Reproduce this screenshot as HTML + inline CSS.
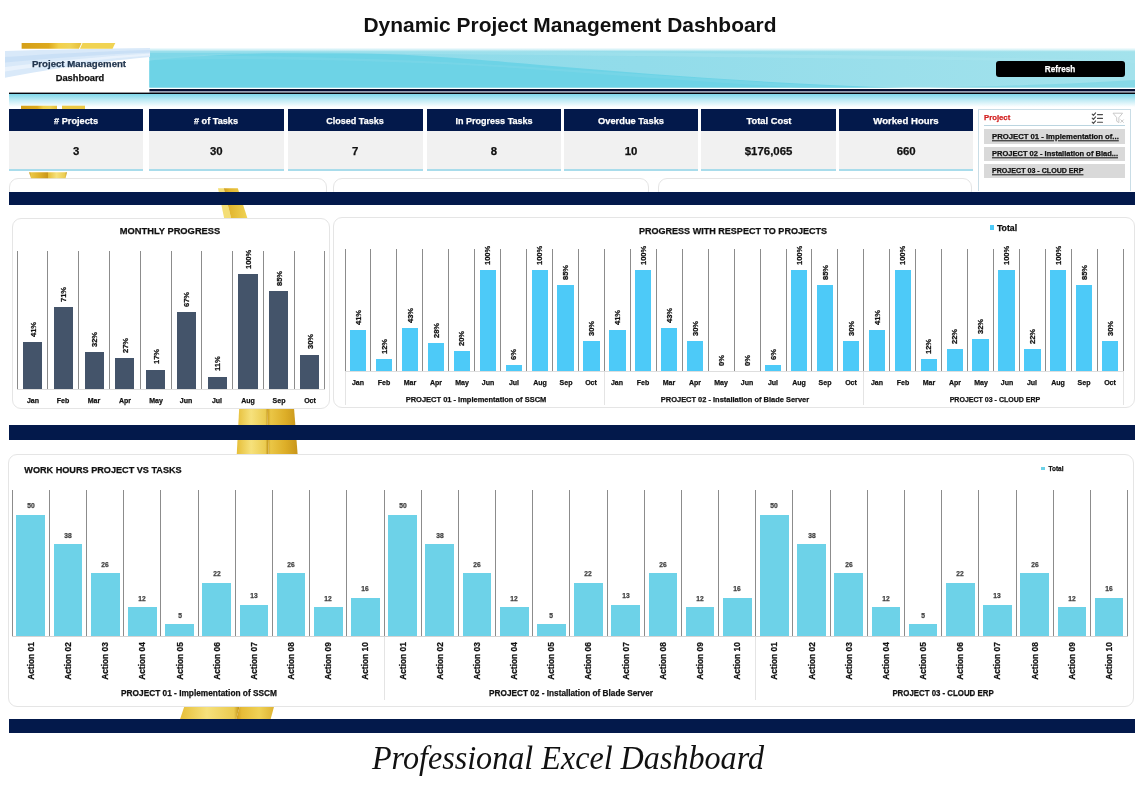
<!DOCTYPE html>
<html lang="en"><head><meta charset="utf-8"><title>Dynamic Project Management Dashboard</title>
<style>
html,body{margin:0;padding:0;background:#fff}
body{width:1140px;height:785px;position:relative;overflow:hidden;font-family:"Liberation Sans",sans-serif}
#s div,#s svg{position:absolute}
.t{position:absolute;white-space:nowrap;line-height:1;font-weight:700;-webkit-text-stroke:0.25px currentColor}
.card{background:#fff;border:1px solid #e5e5e5;border-radius:9px;box-sizing:border-box}
.u{text-decoration:underline}
.script{-webkit-text-stroke:0;font-family:"Liberation Serif",serif;font-style:italic;font-weight:400}
.ns{-webkit-text-stroke:0}

</style></head>
<body>
<div id="s">
<!-- header -->
<svg style="left:0;top:40px" width="1140" height="70" viewBox="0 40 1140 70">
 <defs>
  <linearGradient id="hd" x1="0" x2="1" y1="0" y2="0">
   <stop offset="0" stop-color="#8CDAE9"/><stop offset="0.5" stop-color="#92DCEA"/><stop offset="1" stop-color="#A3E2EC"/>
  </linearGradient>
  <linearGradient id="hf" x1="0" x2="0" y1="0" y2="1">
   <stop offset="0" stop-color="#ffffff" stop-opacity="0.85"/><stop offset="1" stop-color="#ffffff" stop-opacity="0"/>
  </linearGradient>
  <linearGradient id="st" x1="0" x2="0" y1="0" y2="1">
   <stop offset="0" stop-color="#7FD7EA"/><stop offset="0.5" stop-color="#C4ECF5"/><stop offset="1" stop-color="#ffffff"/>
  </linearGradient>
  <linearGradient id="gold" x1="0" x2="1" y1="0" y2="0">
   <stop offset="0" stop-color="#D59F18"/><stop offset="0.45" stop-color="#DDA91D"/><stop offset="0.62" stop-color="#F2D04A"/><stop offset="0.8" stop-color="#F0D458"/><stop offset="1" stop-color="#E6BE38"/>
  </linearGradient>
 </defs>
 <rect x="149.4" y="48.8" width="985.6" height="38.8" fill="url(#hd)"/>
 <path d="M149.4 60.5 C 200 55.5, 250 52.8, 310 52.6 C 400 52.6, 470 59, 540 65 C 660 75, 790 85, 905 87.6 L149.4 87.6 Z" fill="#6DD3E6"/>
 <path d="M149.4 50 C 200 50, 250 50.5, 300 51.5 L300 52.6 C 250 53, 200 55, 149.4 58 Z" fill="#7AD6E7" opacity="0.7"/>
 <path d="M149.4 56 C 300 55, 430 60, 560 69 C 680 77, 790 85, 880 87.6 L800 87.6 C 700 82, 600 74, 500 67 C 380 60, 260 58, 149.4 60 Z" fill="#7DD7E8" opacity="0.6"/>
 <path d="M149.4 50 C 400 49, 700 52, 1135 60 V63 C 700 56, 400 53, 149.4 53 Z" fill="#A8E3EE" opacity="0.5"/>
 <path d="M930 87.6 C 1010 86, 1080 83.5, 1135 80 V87.6 Z" fill="#7DD6E6" opacity="0.75"/>
 <rect x="149.4" y="48.8" width="985.6" height="3" fill="url(#hf)"/>
 <rect x="149.4" y="89" width="985.6" height="2.1" fill="#060F30"/>
 <rect x="149.4" y="91.1" width="985.6" height="1.5" fill="#8F98AF"/>
 <rect x="9" y="92.6" width="1126" height="1.4" fill="#05070f"/>
 <rect x="9" y="94" width="1126" height="13" fill="url(#st)"/>
 <!-- left wave -->
 <path d="M5 51 C 50 49.6, 100 48.6, 150 47.9 L150 57 C 110 60.5, 55 68, 5 77.8 Z" fill="#D9E9F9"/>
 <path d="M5 57 C 50 54, 100 51.5, 150 50 L150 52.5 C 100 54.5, 50 58.5, 5 62.5 Z" fill="#C6DDF5" opacity="0.8"/>
 <path d="M5 67 C 50 61.5, 100 56.5, 150 53.5 L150 55.5 C 100 59, 50 65, 5 71.5 Z" fill="#EAF3FC" opacity="0.9"/>
 <!-- gold top -->
 <polygon points="21.6,42.9 81.5,42.9 79,48.8 21.6,48.8" fill="url(#gold)"/>
 <polygon points="82.5,42.9 115.3,42.9 112.5,48.8 80,48.8" fill="#F0D353"/>
 <polygon points="21,105.7 57,105.7 57,109 21,109" fill="url(#gold)"/>
 <polygon points="62,105.7 85,105.7 85,109 62,109" fill="#EBC844"/>
</svg>
<div style="left:996px;top:61px;width:129px;height:15.5px;background:#000;border-radius:3px"></div>
<!-- partial cards behind band -->
<div class="card" style="left:9px;top:178.4px;width:317.5px;height:22px"></div>
<div class="card" style="left:332.7px;top:178.4px;width:316px;height:22px"></div>
<div class="card" style="left:658.4px;top:178.4px;width:313.6px;height:22px"></div>
<!-- gold ribbons -->
<svg style="left:0;top:165px" width="400" height="570" viewBox="0 165 400 570">
 <defs>
  <linearGradient id="gl" x1="0" x2="1" y1="0" y2="0">
   <stop offset="0" stop-color="#E6BE38"/><stop offset="0.45" stop-color="#F6E17C"/><stop offset="0.9" stop-color="#EBCB50"/><stop offset="1" stop-color="#B98A10"/>
  </linearGradient>
  <linearGradient id="gs" x1="0" x2="1" y1="0" y2="0">
   <stop offset="0" stop-color="#CF9E1C"/><stop offset="0.25" stop-color="#E2B62F"/><stop offset="1" stop-color="#F0D355"/>
  </linearGradient>
  <linearGradient id="gb" x1="0" x2="1" y1="0" y2="0">
   <stop offset="0" stop-color="#CC9B1C"/><stop offset="0.15" stop-color="#E6BC38"/><stop offset="0.6" stop-color="#F0D256"/><stop offset="1" stop-color="#DDB233"/>
  </linearGradient>
  <linearGradient id="gr" x1="0" x2="1" y1="0" y2="0">
   <stop offset="0" stop-color="#C9981A"/><stop offset="0.12" stop-color="#EAC646"/><stop offset="0.6" stop-color="#DDAE28"/><stop offset="1" stop-color="#C8951A"/>
  </linearGradient>
 </defs>
 <polygon points="29,172.3 48,172.3 48,178.2 31,178.2" fill="url(#gr)"/>
 <polygon points="48,172.3 67,172.3 65.5,178.2 48,178.2" fill="url(#gl)"/>
 <polygon points="218,188.2 223.8,188.2 231.2,218.4 224.2,218.4" fill="#F4DE76"/>
 <polygon points="223.8,188.2 237.8,188.2 247.5,218.4 231.2,218.4" fill="url(#gs)"/>
 <polygon points="239.2,408 267,408 268.6,455 236.7,455" fill="url(#gl)"/>
 <polygon points="267,408 294,408 297.7,455 268.6,455" fill="url(#gr)"/>
 <polygon points="184.8,705 240,705 236,720 179.8,720" fill="url(#gl)"/>
 <polygon points="240,705 274.5,705 270.4,720 236,720" fill="url(#gb)"/>
</svg>
<!-- navy bands -->
<div style="left:9px;top:191.7px;width:1126px;height:13.6px;background:#03194B"></div>
<div style="left:9px;top:425.3px;width:1126px;height:14.5px;background:#03194B"></div>
<div style="left:9px;top:718.8px;width:1126px;height:13.9px;background:#03194B"></div>
<!-- cards -->
<div class="card" style="left:12px;top:218.4px;width:317.5px;height:190.4px"></div>
<div class="card" style="left:333px;top:216.8px;width:801.5px;height:190.8px"></div>
<div class="card" style="left:8.4px;top:454.3px;width:1125.8px;height:252.4px"></div>
<!-- slicer -->
<div style="left:977.7px;top:109px;width:153.3px;height:82px;background:#fff;border:1px solid #C9DDE6;border-bottom:0;box-sizing:border-box"></div>
<div style="left:984px;top:125px;width:141px;height:1px;background:#BBD5E0"></div>
<div style="left:984px;top:129.2px;width:141px;height:14.8px;background:#D9D9D9"></div>
<div style="left:984px;top:146.6px;width:141px;height:14.6px;background:#D9D9D9"></div>
<div style="left:984px;top:163.6px;width:141px;height:14.6px;background:#D9D9D9"></div>
<svg style="left:1090px;top:111px" width="40" height="14" viewBox="0 0 40 14">
 <g fill="none" stroke="#4a4a4a" stroke-width="1.1" stroke-linecap="round">
  <path d="M2.2 3.2l1.2 1.2l2.2-2.6M2.2 7.2l1.2 1.2l2.2-2.6M2.2 11.2l1.2 1.2l2.2-2.6"/>
  <path d="M7.5 3.6h5M7.5 7.4h5M7.5 11.2h5"/>
 </g>
 <g fill="none" stroke="#c4c4c4" stroke-width="0.9" stroke-linejoin="round">
  <path d="M23 2.2h9.6l-3.7 4.4v5l-2.2-1.4v-3.6z"/>
  <path d="M30.5 8.5l3.2 3.2M33.7 8.5l-3.2 3.2"/>
 </g>
</svg>
<div style="left:8.90px;top:109.00px;width:134.50px;height:21.60px;background:#03194B;"></div>
<div style="left:8.90px;top:130.60px;width:134.50px;height:38.80px;background:#F1F1F1;"></div>
<div style="left:8.90px;top:169.20px;width:134.50px;height:2.00px;background:#A9DCEB;"></div>
<div style="left:149.10px;top:109.00px;width:134.50px;height:21.60px;background:#03194B;"></div>
<div style="left:149.10px;top:130.60px;width:134.50px;height:38.80px;background:#F1F1F1;"></div>
<div style="left:149.10px;top:169.20px;width:134.50px;height:2.00px;background:#A9DCEB;"></div>
<div style="left:288.00px;top:109.00px;width:134.50px;height:21.60px;background:#03194B;"></div>
<div style="left:288.00px;top:130.60px;width:134.50px;height:38.80px;background:#F1F1F1;"></div>
<div style="left:288.00px;top:169.20px;width:134.50px;height:2.00px;background:#A9DCEB;"></div>
<div style="left:426.60px;top:109.00px;width:134.50px;height:21.60px;background:#03194B;"></div>
<div style="left:426.60px;top:130.60px;width:134.50px;height:38.80px;background:#F1F1F1;"></div>
<div style="left:426.60px;top:169.20px;width:134.50px;height:2.00px;background:#A9DCEB;"></div>
<div style="left:563.80px;top:109.00px;width:134.50px;height:21.60px;background:#03194B;"></div>
<div style="left:563.80px;top:130.60px;width:134.50px;height:38.80px;background:#F1F1F1;"></div>
<div style="left:563.80px;top:169.20px;width:134.50px;height:2.00px;background:#A9DCEB;"></div>
<div style="left:701.30px;top:109.00px;width:134.50px;height:21.60px;background:#03194B;"></div>
<div style="left:701.30px;top:130.60px;width:134.50px;height:38.80px;background:#F1F1F1;"></div>
<div style="left:701.30px;top:169.20px;width:134.50px;height:2.00px;background:#A9DCEB;"></div>
<div style="left:838.90px;top:109.00px;width:134.50px;height:21.60px;background:#03194B;"></div>
<div style="left:838.90px;top:130.60px;width:134.50px;height:38.80px;background:#F1F1F1;"></div>
<div style="left:838.90px;top:169.20px;width:134.50px;height:2.00px;background:#A9DCEB;"></div>
<div style="left:16.70px;top:250.50px;width:1.00px;height:138.70px;background:#8c8c8c;"></div>
<div style="left:47.47px;top:250.50px;width:1.00px;height:138.70px;background:#8c8c8c;"></div>
<div style="left:78.24px;top:250.50px;width:1.00px;height:138.70px;background:#8c8c8c;"></div>
<div style="left:109.01px;top:250.50px;width:1.00px;height:138.70px;background:#8c8c8c;"></div>
<div style="left:139.78px;top:250.50px;width:1.00px;height:138.70px;background:#8c8c8c;"></div>
<div style="left:170.55px;top:250.50px;width:1.00px;height:138.70px;background:#8c8c8c;"></div>
<div style="left:201.32px;top:250.50px;width:1.00px;height:138.70px;background:#8c8c8c;"></div>
<div style="left:232.09px;top:250.50px;width:1.00px;height:138.70px;background:#8c8c8c;"></div>
<div style="left:262.86px;top:250.50px;width:1.00px;height:138.70px;background:#8c8c8c;"></div>
<div style="left:293.63px;top:250.50px;width:1.00px;height:138.70px;background:#8c8c8c;"></div>
<div style="left:324.40px;top:250.50px;width:1.00px;height:138.70px;background:#8c8c8c;"></div>
<div style="left:22.98px;top:341.97px;width:19.20px;height:47.23px;background:#44546A;"></div>
<div style="left:53.76px;top:307.41px;width:19.20px;height:81.79px;background:#44546A;"></div>
<div style="left:84.53px;top:352.34px;width:19.20px;height:36.86px;background:#44546A;"></div>
<div style="left:115.30px;top:358.10px;width:19.20px;height:31.10px;background:#44546A;"></div>
<div style="left:146.06px;top:369.62px;width:19.20px;height:19.58px;background:#44546A;"></div>
<div style="left:176.83px;top:312.02px;width:19.20px;height:77.18px;background:#44546A;"></div>
<div style="left:207.60px;top:376.53px;width:19.20px;height:12.67px;background:#44546A;"></div>
<div style="left:238.38px;top:274.00px;width:19.20px;height:115.20px;background:#44546A;"></div>
<div style="left:269.14px;top:291.28px;width:19.20px;height:97.92px;background:#44546A;"></div>
<div style="left:299.91px;top:354.64px;width:19.20px;height:34.56px;background:#44546A;"></div>
<div style="left:17.20px;top:389.00px;width:307.70px;height:0.80px;background:#dedede;"></div>
<div style="left:344.55px;top:249.20px;width:1.00px;height:121.60px;background:#8c8c8c;"></div>
<div style="left:344.55px;top:370.80px;width:1.00px;height:34.70px;background:#e4e4e4;"></div>
<div style="left:370.49px;top:249.20px;width:1.00px;height:121.60px;background:#8c8c8c;"></div>
<div style="left:396.43px;top:249.20px;width:1.00px;height:121.60px;background:#8c8c8c;"></div>
<div style="left:422.37px;top:249.20px;width:1.00px;height:121.60px;background:#8c8c8c;"></div>
<div style="left:448.31px;top:249.20px;width:1.00px;height:121.60px;background:#8c8c8c;"></div>
<div style="left:474.25px;top:249.20px;width:1.00px;height:121.60px;background:#8c8c8c;"></div>
<div style="left:500.19px;top:249.20px;width:1.00px;height:121.60px;background:#8c8c8c;"></div>
<div style="left:526.13px;top:249.20px;width:1.00px;height:121.60px;background:#8c8c8c;"></div>
<div style="left:552.07px;top:249.20px;width:1.00px;height:121.60px;background:#8c8c8c;"></div>
<div style="left:578.01px;top:249.20px;width:1.00px;height:121.60px;background:#8c8c8c;"></div>
<div style="left:603.95px;top:249.20px;width:1.00px;height:121.60px;background:#8c8c8c;"></div>
<div style="left:603.95px;top:370.80px;width:1.00px;height:34.70px;background:#e4e4e4;"></div>
<div style="left:629.89px;top:249.20px;width:1.00px;height:121.60px;background:#8c8c8c;"></div>
<div style="left:655.83px;top:249.20px;width:1.00px;height:121.60px;background:#8c8c8c;"></div>
<div style="left:681.77px;top:249.20px;width:1.00px;height:121.60px;background:#8c8c8c;"></div>
<div style="left:707.71px;top:249.20px;width:1.00px;height:121.60px;background:#8c8c8c;"></div>
<div style="left:733.65px;top:249.20px;width:1.00px;height:121.60px;background:#8c8c8c;"></div>
<div style="left:759.59px;top:249.20px;width:1.00px;height:121.60px;background:#8c8c8c;"></div>
<div style="left:785.53px;top:249.20px;width:1.00px;height:121.60px;background:#8c8c8c;"></div>
<div style="left:811.47px;top:249.20px;width:1.00px;height:121.60px;background:#8c8c8c;"></div>
<div style="left:837.41px;top:249.20px;width:1.00px;height:121.60px;background:#8c8c8c;"></div>
<div style="left:863.35px;top:249.20px;width:1.00px;height:121.60px;background:#8c8c8c;"></div>
<div style="left:863.35px;top:370.80px;width:1.00px;height:34.70px;background:#e4e4e4;"></div>
<div style="left:889.29px;top:249.20px;width:1.00px;height:121.60px;background:#8c8c8c;"></div>
<div style="left:915.23px;top:249.20px;width:1.00px;height:121.60px;background:#8c8c8c;"></div>
<div style="left:941.17px;top:249.20px;width:1.00px;height:121.60px;background:#8c8c8c;"></div>
<div style="left:967.11px;top:249.20px;width:1.00px;height:121.60px;background:#8c8c8c;"></div>
<div style="left:993.05px;top:249.20px;width:1.00px;height:121.60px;background:#8c8c8c;"></div>
<div style="left:1018.99px;top:249.20px;width:1.00px;height:121.60px;background:#8c8c8c;"></div>
<div style="left:1044.93px;top:249.20px;width:1.00px;height:121.60px;background:#8c8c8c;"></div>
<div style="left:1070.87px;top:249.20px;width:1.00px;height:121.60px;background:#8c8c8c;"></div>
<div style="left:1096.81px;top:249.20px;width:1.00px;height:121.60px;background:#8c8c8c;"></div>
<div style="left:1122.75px;top:249.20px;width:1.00px;height:121.60px;background:#8c8c8c;"></div>
<div style="left:1122.75px;top:370.80px;width:1.00px;height:34.70px;background:#e4e4e4;"></div>
<div style="left:349.92px;top:329.55px;width:16.20px;height:41.25px;background:#4DCAF8;"></div>
<div style="left:375.86px;top:358.73px;width:16.20px;height:12.07px;background:#4DCAF8;"></div>
<div style="left:401.80px;top:327.54px;width:16.20px;height:43.26px;background:#4DCAF8;"></div>
<div style="left:427.74px;top:342.63px;width:16.20px;height:28.17px;background:#4DCAF8;"></div>
<div style="left:453.68px;top:350.68px;width:16.20px;height:20.12px;background:#4DCAF8;"></div>
<div style="left:479.62px;top:270.20px;width:16.20px;height:100.60px;background:#4DCAF8;"></div>
<div style="left:505.56px;top:364.76px;width:16.20px;height:6.04px;background:#4DCAF8;"></div>
<div style="left:531.50px;top:270.20px;width:16.20px;height:100.60px;background:#4DCAF8;"></div>
<div style="left:557.44px;top:285.29px;width:16.20px;height:85.51px;background:#4DCAF8;"></div>
<div style="left:583.38px;top:340.62px;width:16.20px;height:30.18px;background:#4DCAF8;"></div>
<div style="left:609.32px;top:329.55px;width:16.20px;height:41.25px;background:#4DCAF8;"></div>
<div style="left:635.26px;top:270.20px;width:16.20px;height:100.60px;background:#4DCAF8;"></div>
<div style="left:661.20px;top:327.54px;width:16.20px;height:43.26px;background:#4DCAF8;"></div>
<div style="left:687.14px;top:340.62px;width:16.20px;height:30.18px;background:#4DCAF8;"></div>
<div style="left:764.96px;top:364.76px;width:16.20px;height:6.04px;background:#4DCAF8;"></div>
<div style="left:790.90px;top:270.20px;width:16.20px;height:100.60px;background:#4DCAF8;"></div>
<div style="left:816.84px;top:285.29px;width:16.20px;height:85.51px;background:#4DCAF8;"></div>
<div style="left:842.78px;top:340.62px;width:16.20px;height:30.18px;background:#4DCAF8;"></div>
<div style="left:868.72px;top:329.55px;width:16.20px;height:41.25px;background:#4DCAF8;"></div>
<div style="left:894.66px;top:270.20px;width:16.20px;height:100.60px;background:#4DCAF8;"></div>
<div style="left:920.60px;top:358.73px;width:16.20px;height:12.07px;background:#4DCAF8;"></div>
<div style="left:946.54px;top:348.67px;width:16.20px;height:22.13px;background:#4DCAF8;"></div>
<div style="left:972.48px;top:338.61px;width:16.20px;height:32.19px;background:#4DCAF8;"></div>
<div style="left:998.42px;top:270.20px;width:16.20px;height:100.60px;background:#4DCAF8;"></div>
<div style="left:1024.36px;top:348.67px;width:16.20px;height:22.13px;background:#4DCAF8;"></div>
<div style="left:1050.30px;top:270.20px;width:16.20px;height:100.60px;background:#4DCAF8;"></div>
<div style="left:1076.24px;top:285.29px;width:16.20px;height:85.51px;background:#4DCAF8;"></div>
<div style="left:1102.18px;top:340.62px;width:16.20px;height:30.18px;background:#4DCAF8;"></div>
<div style="left:345.05px;top:370.70px;width:778.20px;height:0.80px;background:#dedede;"></div>
<div style="left:989.60px;top:225.40px;width:4.80px;height:4.80px;background:#4DCAF8;"></div>
<div style="left:11.70px;top:490.20px;width:1.00px;height:146.20px;background:#8c8c8c;"></div>
<div style="left:48.88px;top:490.20px;width:1.00px;height:146.20px;background:#8c8c8c;"></div>
<div style="left:86.06px;top:490.20px;width:1.00px;height:146.20px;background:#8c8c8c;"></div>
<div style="left:123.24px;top:490.20px;width:1.00px;height:146.20px;background:#8c8c8c;"></div>
<div style="left:160.42px;top:490.20px;width:1.00px;height:146.20px;background:#8c8c8c;"></div>
<div style="left:197.60px;top:490.20px;width:1.00px;height:146.20px;background:#8c8c8c;"></div>
<div style="left:234.78px;top:490.20px;width:1.00px;height:146.20px;background:#8c8c8c;"></div>
<div style="left:271.96px;top:490.20px;width:1.00px;height:146.20px;background:#8c8c8c;"></div>
<div style="left:309.14px;top:490.20px;width:1.00px;height:146.20px;background:#8c8c8c;"></div>
<div style="left:346.32px;top:490.20px;width:1.00px;height:146.20px;background:#8c8c8c;"></div>
<div style="left:383.50px;top:490.20px;width:1.00px;height:146.20px;background:#8c8c8c;"></div>
<div style="left:383.50px;top:636.40px;width:1.00px;height:63.60px;background:#e4e4e4;"></div>
<div style="left:420.68px;top:490.20px;width:1.00px;height:146.20px;background:#8c8c8c;"></div>
<div style="left:457.86px;top:490.20px;width:1.00px;height:146.20px;background:#8c8c8c;"></div>
<div style="left:495.04px;top:490.20px;width:1.00px;height:146.20px;background:#8c8c8c;"></div>
<div style="left:532.22px;top:490.20px;width:1.00px;height:146.20px;background:#8c8c8c;"></div>
<div style="left:569.40px;top:490.20px;width:1.00px;height:146.20px;background:#8c8c8c;"></div>
<div style="left:606.58px;top:490.20px;width:1.00px;height:146.20px;background:#8c8c8c;"></div>
<div style="left:643.76px;top:490.20px;width:1.00px;height:146.20px;background:#8c8c8c;"></div>
<div style="left:680.94px;top:490.20px;width:1.00px;height:146.20px;background:#8c8c8c;"></div>
<div style="left:718.12px;top:490.20px;width:1.00px;height:146.20px;background:#8c8c8c;"></div>
<div style="left:755.30px;top:490.20px;width:1.00px;height:146.20px;background:#8c8c8c;"></div>
<div style="left:755.30px;top:636.40px;width:1.00px;height:63.60px;background:#e4e4e4;"></div>
<div style="left:792.48px;top:490.20px;width:1.00px;height:146.20px;background:#8c8c8c;"></div>
<div style="left:829.66px;top:490.20px;width:1.00px;height:146.20px;background:#8c8c8c;"></div>
<div style="left:866.84px;top:490.20px;width:1.00px;height:146.20px;background:#8c8c8c;"></div>
<div style="left:904.02px;top:490.20px;width:1.00px;height:146.20px;background:#8c8c8c;"></div>
<div style="left:941.20px;top:490.20px;width:1.00px;height:146.20px;background:#8c8c8c;"></div>
<div style="left:978.38px;top:490.20px;width:1.00px;height:146.20px;background:#8c8c8c;"></div>
<div style="left:1015.56px;top:490.20px;width:1.00px;height:146.20px;background:#8c8c8c;"></div>
<div style="left:1052.74px;top:490.20px;width:1.00px;height:146.20px;background:#8c8c8c;"></div>
<div style="left:1089.92px;top:490.20px;width:1.00px;height:146.20px;background:#8c8c8c;"></div>
<div style="left:1127.10px;top:490.20px;width:1.00px;height:146.20px;background:#8c8c8c;"></div>
<div style="left:16.49px;top:515.00px;width:28.70px;height:121.40px;background:#6DD2E8;"></div>
<div style="left:53.67px;top:544.14px;width:28.70px;height:92.26px;background:#6DD2E8;"></div>
<div style="left:90.85px;top:573.27px;width:28.70px;height:63.13px;background:#6DD2E8;"></div>
<div style="left:128.03px;top:607.26px;width:28.70px;height:29.14px;background:#6DD2E8;"></div>
<div style="left:165.21px;top:624.26px;width:28.70px;height:12.14px;background:#6DD2E8;"></div>
<div style="left:202.39px;top:582.98px;width:28.70px;height:53.42px;background:#6DD2E8;"></div>
<div style="left:239.57px;top:604.84px;width:28.70px;height:31.56px;background:#6DD2E8;"></div>
<div style="left:276.75px;top:573.27px;width:28.70px;height:63.13px;background:#6DD2E8;"></div>
<div style="left:313.93px;top:607.26px;width:28.70px;height:29.14px;background:#6DD2E8;"></div>
<div style="left:351.11px;top:597.55px;width:28.70px;height:38.85px;background:#6DD2E8;"></div>
<div style="left:388.29px;top:515.00px;width:28.70px;height:121.40px;background:#6DD2E8;"></div>
<div style="left:425.47px;top:544.14px;width:28.70px;height:92.26px;background:#6DD2E8;"></div>
<div style="left:462.65px;top:573.27px;width:28.70px;height:63.13px;background:#6DD2E8;"></div>
<div style="left:499.83px;top:607.26px;width:28.70px;height:29.14px;background:#6DD2E8;"></div>
<div style="left:537.01px;top:624.26px;width:28.70px;height:12.14px;background:#6DD2E8;"></div>
<div style="left:574.19px;top:582.98px;width:28.70px;height:53.42px;background:#6DD2E8;"></div>
<div style="left:611.37px;top:604.84px;width:28.70px;height:31.56px;background:#6DD2E8;"></div>
<div style="left:648.55px;top:573.27px;width:28.70px;height:63.13px;background:#6DD2E8;"></div>
<div style="left:685.73px;top:607.26px;width:28.70px;height:29.14px;background:#6DD2E8;"></div>
<div style="left:722.91px;top:597.55px;width:28.70px;height:38.85px;background:#6DD2E8;"></div>
<div style="left:760.09px;top:515.00px;width:28.70px;height:121.40px;background:#6DD2E8;"></div>
<div style="left:797.27px;top:544.14px;width:28.70px;height:92.26px;background:#6DD2E8;"></div>
<div style="left:834.45px;top:573.27px;width:28.70px;height:63.13px;background:#6DD2E8;"></div>
<div style="left:871.63px;top:607.26px;width:28.70px;height:29.14px;background:#6DD2E8;"></div>
<div style="left:908.81px;top:624.26px;width:28.70px;height:12.14px;background:#6DD2E8;"></div>
<div style="left:945.99px;top:582.98px;width:28.70px;height:53.42px;background:#6DD2E8;"></div>
<div style="left:983.17px;top:604.84px;width:28.70px;height:31.56px;background:#6DD2E8;"></div>
<div style="left:1020.35px;top:573.27px;width:28.70px;height:63.13px;background:#6DD2E8;"></div>
<div style="left:1057.53px;top:607.26px;width:28.70px;height:29.14px;background:#6DD2E8;"></div>
<div style="left:1094.71px;top:597.55px;width:28.70px;height:38.85px;background:#6DD2E8;"></div>
<div style="left:12.20px;top:636.20px;width:1115.40px;height:0.80px;background:#d4d4d4;"></div>
<div style="left:1040.80px;top:466.60px;width:3.80px;height:3.80px;background:#6DD2E8;"></div>
</div>
<div class="t ns" style="left:570.00px;top:24.40px;font-size:21px;color:#111;transform-origin:50% 50%;transform:translate(-50%,-50%) scaleX(0.997)">Dynamic Project Management Dashboard</div>
<div class="t" style="left:76.15px;top:120.50px;font-size:9.8px;color:#fff;transform-origin:50% 50%;transform:translate(-50%,-50%) scaleX(0.941)"># Projects</div>
<div class="t" style="left:76.15px;top:151.80px;font-size:11.4px;color:#111;transform-origin:50% 50%;transform:translate(-50%,-50%)">3</div>
<div class="t" style="left:216.35px;top:120.50px;font-size:9.8px;color:#fff;transform-origin:50% 50%;transform:translate(-50%,-50%) scaleX(0.934)"># of Tasks</div>
<div class="t" style="left:216.35px;top:151.80px;font-size:11.4px;color:#111;transform-origin:50% 50%;transform:translate(-50%,-50%)">30</div>
<div class="t" style="left:355.25px;top:120.50px;font-size:9.8px;color:#fff;transform-origin:50% 50%;transform:translate(-50%,-50%) scaleX(0.921)">Closed Tasks</div>
<div class="t" style="left:355.25px;top:151.80px;font-size:11.4px;color:#111;transform-origin:50% 50%;transform:translate(-50%,-50%)">7</div>
<div class="t" style="left:493.85px;top:120.50px;font-size:9.8px;color:#fff;transform-origin:50% 50%;transform:translate(-50%,-50%) scaleX(0.922)">In Progress Tasks</div>
<div class="t" style="left:493.85px;top:151.80px;font-size:11.4px;color:#111;transform-origin:50% 50%;transform:translate(-50%,-50%)">8</div>
<div class="t" style="left:631.05px;top:120.50px;font-size:9.8px;color:#fff;transform-origin:50% 50%;transform:translate(-50%,-50%) scaleX(0.949)">Overdue Tasks</div>
<div class="t" style="left:631.05px;top:151.80px;font-size:11.4px;color:#111;transform-origin:50% 50%;transform:translate(-50%,-50%)">10</div>
<div class="t" style="left:768.55px;top:120.50px;font-size:9.8px;color:#fff;transform-origin:50% 50%;transform:translate(-50%,-50%) scaleX(0.952)">Total Cost</div>
<div class="t" style="left:768.55px;top:151.80px;font-size:11.4px;color:#111;transform-origin:50% 50%;transform:translate(-50%,-50%)">$176,065</div>
<div class="t" style="left:906.15px;top:120.50px;font-size:9.8px;color:#fff;transform-origin:50% 50%;transform:translate(-50%,-50%) scaleX(0.979)">Worked Hours</div>
<div class="t" style="left:906.15px;top:151.80px;font-size:11.4px;color:#111;transform-origin:50% 50%;transform:translate(-50%,-50%)">660</div>
<div class="t" style="left:32.59px;top:400.60px;font-size:7.4px;color:#111;transform-origin:50% 50%;transform:translate(-50%,-50%) scaleX(0.950)">Jan</div>
<div class="t" style="left:33.59px;top:336.77px;font-size:8.1px;color:#111;transform-origin:0 50%;transform:translateY(-50%) rotate(-90deg) scaleX(0.930)">41%</div>
<div class="t" style="left:63.36px;top:400.60px;font-size:7.4px;color:#111;transform-origin:50% 50%;transform:translate(-50%,-50%) scaleX(0.950)">Feb</div>
<div class="t" style="left:64.36px;top:302.21px;font-size:8.1px;color:#111;transform-origin:0 50%;transform:translateY(-50%) rotate(-90deg) scaleX(0.930)">71%</div>
<div class="t" style="left:94.12px;top:400.60px;font-size:7.4px;color:#111;transform-origin:50% 50%;transform:translate(-50%,-50%) scaleX(0.950)">Mar</div>
<div class="t" style="left:95.12px;top:347.14px;font-size:8.1px;color:#111;transform-origin:0 50%;transform:translateY(-50%) rotate(-90deg) scaleX(0.930)">32%</div>
<div class="t" style="left:124.89px;top:400.60px;font-size:7.4px;color:#111;transform-origin:50% 50%;transform:translate(-50%,-50%) scaleX(0.950)">Apr</div>
<div class="t" style="left:125.89px;top:352.90px;font-size:8.1px;color:#111;transform-origin:0 50%;transform:translateY(-50%) rotate(-90deg) scaleX(0.930)">27%</div>
<div class="t" style="left:155.66px;top:400.60px;font-size:7.4px;color:#111;transform-origin:50% 50%;transform:translate(-50%,-50%) scaleX(0.950)">May</div>
<div class="t" style="left:156.66px;top:364.42px;font-size:8.1px;color:#111;transform-origin:0 50%;transform:translateY(-50%) rotate(-90deg) scaleX(0.930)">17%</div>
<div class="t" style="left:186.43px;top:400.60px;font-size:7.4px;color:#111;transform-origin:50% 50%;transform:translate(-50%,-50%) scaleX(0.950)">Jun</div>
<div class="t" style="left:187.43px;top:306.82px;font-size:8.1px;color:#111;transform-origin:0 50%;transform:translateY(-50%) rotate(-90deg) scaleX(0.930)">67%</div>
<div class="t" style="left:217.20px;top:400.60px;font-size:7.4px;color:#111;transform-origin:50% 50%;transform:translate(-50%,-50%) scaleX(0.950)">Jul</div>
<div class="t" style="left:218.20px;top:371.33px;font-size:8.1px;color:#111;transform-origin:0 50%;transform:translateY(-50%) rotate(-90deg) scaleX(0.930)">11%</div>
<div class="t" style="left:247.97px;top:400.60px;font-size:7.4px;color:#111;transform-origin:50% 50%;transform:translate(-50%,-50%) scaleX(0.950)">Aug</div>
<div class="t" style="left:248.97px;top:268.80px;font-size:8.1px;color:#111;transform-origin:0 50%;transform:translateY(-50%) rotate(-90deg) scaleX(0.930)">100%</div>
<div class="t" style="left:278.75px;top:400.60px;font-size:7.4px;color:#111;transform-origin:50% 50%;transform:translate(-50%,-50%) scaleX(0.950)">Sep</div>
<div class="t" style="left:279.75px;top:286.08px;font-size:8.1px;color:#111;transform-origin:0 50%;transform:translateY(-50%) rotate(-90deg) scaleX(0.930)">85%</div>
<div class="t" style="left:309.51px;top:400.60px;font-size:7.4px;color:#111;transform-origin:50% 50%;transform:translate(-50%,-50%) scaleX(0.950)">Oct</div>
<div class="t" style="left:310.51px;top:349.44px;font-size:8.1px;color:#111;transform-origin:0 50%;transform:translateY(-50%) rotate(-90deg) scaleX(0.930)">30%</div>
<div class="t" style="left:170.20px;top:232.20px;font-size:9.1px;color:#111;transform-origin:50% 50%;transform:translate(-50%,-50%) scaleX(1.026)">MONTHLY PROGRESS</div>
<div class="t" style="left:358.02px;top:382.80px;font-size:7.4px;color:#111;transform-origin:50% 50%;transform:translate(-50%,-50%) scaleX(0.950)">Jan</div>
<div class="t" style="left:358.72px;top:324.55px;font-size:8.1px;color:#111;transform-origin:0 50%;transform:translateY(-50%) rotate(-90deg) scaleX(0.930)">41%</div>
<div class="t" style="left:383.96px;top:382.80px;font-size:7.4px;color:#111;transform-origin:50% 50%;transform:translate(-50%,-50%) scaleX(0.950)">Feb</div>
<div class="t" style="left:384.66px;top:353.73px;font-size:8.1px;color:#111;transform-origin:0 50%;transform:translateY(-50%) rotate(-90deg) scaleX(0.930)">12%</div>
<div class="t" style="left:409.90px;top:382.80px;font-size:7.4px;color:#111;transform-origin:50% 50%;transform:translate(-50%,-50%) scaleX(0.950)">Mar</div>
<div class="t" style="left:410.60px;top:322.54px;font-size:8.1px;color:#111;transform-origin:0 50%;transform:translateY(-50%) rotate(-90deg) scaleX(0.930)">43%</div>
<div class="t" style="left:435.84px;top:382.80px;font-size:7.4px;color:#111;transform-origin:50% 50%;transform:translate(-50%,-50%) scaleX(0.950)">Apr</div>
<div class="t" style="left:436.54px;top:337.63px;font-size:8.1px;color:#111;transform-origin:0 50%;transform:translateY(-50%) rotate(-90deg) scaleX(0.930)">28%</div>
<div class="t" style="left:461.78px;top:382.80px;font-size:7.4px;color:#111;transform-origin:50% 50%;transform:translate(-50%,-50%) scaleX(0.950)">May</div>
<div class="t" style="left:462.48px;top:345.68px;font-size:8.1px;color:#111;transform-origin:0 50%;transform:translateY(-50%) rotate(-90deg) scaleX(0.930)">20%</div>
<div class="t" style="left:487.72px;top:382.80px;font-size:7.4px;color:#111;transform-origin:50% 50%;transform:translate(-50%,-50%) scaleX(0.950)">Jun</div>
<div class="t" style="left:488.42px;top:265.20px;font-size:8.1px;color:#111;transform-origin:0 50%;transform:translateY(-50%) rotate(-90deg) scaleX(0.930)">100%</div>
<div class="t" style="left:513.66px;top:382.80px;font-size:7.4px;color:#111;transform-origin:50% 50%;transform:translate(-50%,-50%) scaleX(0.950)">Jul</div>
<div class="t" style="left:514.36px;top:359.76px;font-size:8.1px;color:#111;transform-origin:0 50%;transform:translateY(-50%) rotate(-90deg) scaleX(0.930)">6%</div>
<div class="t" style="left:539.60px;top:382.80px;font-size:7.4px;color:#111;transform-origin:50% 50%;transform:translate(-50%,-50%) scaleX(0.950)">Aug</div>
<div class="t" style="left:540.30px;top:265.20px;font-size:8.1px;color:#111;transform-origin:0 50%;transform:translateY(-50%) rotate(-90deg) scaleX(0.930)">100%</div>
<div class="t" style="left:565.54px;top:382.80px;font-size:7.4px;color:#111;transform-origin:50% 50%;transform:translate(-50%,-50%) scaleX(0.950)">Sep</div>
<div class="t" style="left:566.24px;top:280.29px;font-size:8.1px;color:#111;transform-origin:0 50%;transform:translateY(-50%) rotate(-90deg) scaleX(0.930)">85%</div>
<div class="t" style="left:591.48px;top:382.80px;font-size:7.4px;color:#111;transform-origin:50% 50%;transform:translate(-50%,-50%) scaleX(0.950)">Oct</div>
<div class="t" style="left:592.18px;top:335.62px;font-size:8.1px;color:#111;transform-origin:0 50%;transform:translateY(-50%) rotate(-90deg) scaleX(0.930)">30%</div>
<div class="t" style="left:475.75px;top:399.70px;font-size:7.9px;color:#111;transform-origin:50% 50%;transform:translate(-50%,-50%) scaleX(0.949)">PROJECT 01 - Implementation of SSCM</div>
<div class="t" style="left:617.42px;top:382.80px;font-size:7.4px;color:#111;transform-origin:50% 50%;transform:translate(-50%,-50%) scaleX(0.950)">Jan</div>
<div class="t" style="left:618.12px;top:324.55px;font-size:8.1px;color:#111;transform-origin:0 50%;transform:translateY(-50%) rotate(-90deg) scaleX(0.930)">41%</div>
<div class="t" style="left:643.36px;top:382.80px;font-size:7.4px;color:#111;transform-origin:50% 50%;transform:translate(-50%,-50%) scaleX(0.950)">Feb</div>
<div class="t" style="left:644.06px;top:265.20px;font-size:8.1px;color:#111;transform-origin:0 50%;transform:translateY(-50%) rotate(-90deg) scaleX(0.930)">100%</div>
<div class="t" style="left:669.30px;top:382.80px;font-size:7.4px;color:#111;transform-origin:50% 50%;transform:translate(-50%,-50%) scaleX(0.950)">Mar</div>
<div class="t" style="left:670.00px;top:322.54px;font-size:8.1px;color:#111;transform-origin:0 50%;transform:translateY(-50%) rotate(-90deg) scaleX(0.930)">43%</div>
<div class="t" style="left:695.24px;top:382.80px;font-size:7.4px;color:#111;transform-origin:50% 50%;transform:translate(-50%,-50%) scaleX(0.950)">Apr</div>
<div class="t" style="left:695.94px;top:335.62px;font-size:8.1px;color:#111;transform-origin:0 50%;transform:translateY(-50%) rotate(-90deg) scaleX(0.930)">30%</div>
<div class="t" style="left:721.18px;top:382.80px;font-size:7.4px;color:#111;transform-origin:50% 50%;transform:translate(-50%,-50%) scaleX(0.950)">May</div>
<div class="t" style="left:721.88px;top:365.80px;font-size:8.1px;color:#111;transform-origin:0 50%;transform:translateY(-50%) rotate(-90deg) scaleX(0.930)">0%</div>
<div class="t" style="left:747.12px;top:382.80px;font-size:7.4px;color:#111;transform-origin:50% 50%;transform:translate(-50%,-50%) scaleX(0.950)">Jun</div>
<div class="t" style="left:747.82px;top:365.80px;font-size:8.1px;color:#111;transform-origin:0 50%;transform:translateY(-50%) rotate(-90deg) scaleX(0.930)">0%</div>
<div class="t" style="left:773.06px;top:382.80px;font-size:7.4px;color:#111;transform-origin:50% 50%;transform:translate(-50%,-50%) scaleX(0.950)">Jul</div>
<div class="t" style="left:773.76px;top:359.76px;font-size:8.1px;color:#111;transform-origin:0 50%;transform:translateY(-50%) rotate(-90deg) scaleX(0.930)">6%</div>
<div class="t" style="left:799.00px;top:382.80px;font-size:7.4px;color:#111;transform-origin:50% 50%;transform:translate(-50%,-50%) scaleX(0.950)">Aug</div>
<div class="t" style="left:799.70px;top:265.20px;font-size:8.1px;color:#111;transform-origin:0 50%;transform:translateY(-50%) rotate(-90deg) scaleX(0.930)">100%</div>
<div class="t" style="left:824.94px;top:382.80px;font-size:7.4px;color:#111;transform-origin:50% 50%;transform:translate(-50%,-50%) scaleX(0.950)">Sep</div>
<div class="t" style="left:825.64px;top:280.29px;font-size:8.1px;color:#111;transform-origin:0 50%;transform:translateY(-50%) rotate(-90deg) scaleX(0.930)">85%</div>
<div class="t" style="left:850.88px;top:382.80px;font-size:7.4px;color:#111;transform-origin:50% 50%;transform:translate(-50%,-50%) scaleX(0.950)">Oct</div>
<div class="t" style="left:851.58px;top:335.62px;font-size:8.1px;color:#111;transform-origin:0 50%;transform:translateY(-50%) rotate(-90deg) scaleX(0.930)">30%</div>
<div class="t" style="left:735.15px;top:399.70px;font-size:7.9px;color:#111;transform-origin:50% 50%;transform:translate(-50%,-50%) scaleX(0.945)">PROJECT 02 - Installation of Blade Server</div>
<div class="t" style="left:876.82px;top:382.80px;font-size:7.4px;color:#111;transform-origin:50% 50%;transform:translate(-50%,-50%) scaleX(0.950)">Jan</div>
<div class="t" style="left:877.52px;top:324.55px;font-size:8.1px;color:#111;transform-origin:0 50%;transform:translateY(-50%) rotate(-90deg) scaleX(0.930)">41%</div>
<div class="t" style="left:902.76px;top:382.80px;font-size:7.4px;color:#111;transform-origin:50% 50%;transform:translate(-50%,-50%) scaleX(0.950)">Feb</div>
<div class="t" style="left:903.46px;top:265.20px;font-size:8.1px;color:#111;transform-origin:0 50%;transform:translateY(-50%) rotate(-90deg) scaleX(0.930)">100%</div>
<div class="t" style="left:928.70px;top:382.80px;font-size:7.4px;color:#111;transform-origin:50% 50%;transform:translate(-50%,-50%) scaleX(0.950)">Mar</div>
<div class="t" style="left:929.40px;top:353.73px;font-size:8.1px;color:#111;transform-origin:0 50%;transform:translateY(-50%) rotate(-90deg) scaleX(0.930)">12%</div>
<div class="t" style="left:954.64px;top:382.80px;font-size:7.4px;color:#111;transform-origin:50% 50%;transform:translate(-50%,-50%) scaleX(0.950)">Apr</div>
<div class="t" style="left:955.34px;top:343.67px;font-size:8.1px;color:#111;transform-origin:0 50%;transform:translateY(-50%) rotate(-90deg) scaleX(0.930)">22%</div>
<div class="t" style="left:980.58px;top:382.80px;font-size:7.4px;color:#111;transform-origin:50% 50%;transform:translate(-50%,-50%) scaleX(0.950)">May</div>
<div class="t" style="left:981.28px;top:333.61px;font-size:8.1px;color:#111;transform-origin:0 50%;transform:translateY(-50%) rotate(-90deg) scaleX(0.930)">32%</div>
<div class="t" style="left:1006.52px;top:382.80px;font-size:7.4px;color:#111;transform-origin:50% 50%;transform:translate(-50%,-50%) scaleX(0.950)">Jun</div>
<div class="t" style="left:1007.22px;top:265.20px;font-size:8.1px;color:#111;transform-origin:0 50%;transform:translateY(-50%) rotate(-90deg) scaleX(0.930)">100%</div>
<div class="t" style="left:1032.46px;top:382.80px;font-size:7.4px;color:#111;transform-origin:50% 50%;transform:translate(-50%,-50%) scaleX(0.950)">Jul</div>
<div class="t" style="left:1033.16px;top:343.67px;font-size:8.1px;color:#111;transform-origin:0 50%;transform:translateY(-50%) rotate(-90deg) scaleX(0.930)">22%</div>
<div class="t" style="left:1058.40px;top:382.80px;font-size:7.4px;color:#111;transform-origin:50% 50%;transform:translate(-50%,-50%) scaleX(0.950)">Aug</div>
<div class="t" style="left:1059.10px;top:265.20px;font-size:8.1px;color:#111;transform-origin:0 50%;transform:translateY(-50%) rotate(-90deg) scaleX(0.930)">100%</div>
<div class="t" style="left:1084.34px;top:382.80px;font-size:7.4px;color:#111;transform-origin:50% 50%;transform:translate(-50%,-50%) scaleX(0.950)">Sep</div>
<div class="t" style="left:1085.04px;top:280.29px;font-size:8.1px;color:#111;transform-origin:0 50%;transform:translateY(-50%) rotate(-90deg) scaleX(0.930)">85%</div>
<div class="t" style="left:1110.28px;top:382.80px;font-size:7.4px;color:#111;transform-origin:50% 50%;transform:translate(-50%,-50%) scaleX(0.950)">Oct</div>
<div class="t" style="left:1110.98px;top:335.62px;font-size:8.1px;color:#111;transform-origin:0 50%;transform:translateY(-50%) rotate(-90deg) scaleX(0.930)">30%</div>
<div class="t" style="left:994.55px;top:399.70px;font-size:7.9px;color:#111;transform-origin:50% 50%;transform:translate(-50%,-50%) scaleX(0.891)">PROJECT 03 - CLOUD ERP</div>
<div class="t" style="left:733.30px;top:231.90px;font-size:9.1px;color:#111;transform-origin:50% 50%;transform:translate(-50%,-50%) scaleX(0.994)">PROGRESS WITH RESPECT TO PROJECTS</div>
<div class="t" style="left:1006.70px;top:227.60px;font-size:8.4px;color:#111;transform-origin:50% 50%;transform:translate(-50%,-50%) scaleX(1.042)">Total</div>
<div class="t" style="left:30.79px;top:506.40px;font-size:7.2px;color:#404040;transform-origin:50% 50%;transform:translate(-50%,-50%) scaleX(0.930)">50</div>
<div class="t" style="left:30.79px;top:661.20px;font-size:9.0px;color:#111;transform-origin:50% 50%;transform:translate(-50%,-50%) rotate(-90deg) scaleX(0.930)">Action 01</div>
<div class="t" style="left:67.97px;top:535.54px;font-size:7.2px;color:#404040;transform-origin:50% 50%;transform:translate(-50%,-50%) scaleX(0.930)">38</div>
<div class="t" style="left:67.97px;top:661.20px;font-size:9.0px;color:#111;transform-origin:50% 50%;transform:translate(-50%,-50%) rotate(-90deg) scaleX(0.930)">Action 02</div>
<div class="t" style="left:105.15px;top:564.67px;font-size:7.2px;color:#404040;transform-origin:50% 50%;transform:translate(-50%,-50%) scaleX(0.930)">26</div>
<div class="t" style="left:105.15px;top:661.20px;font-size:9.0px;color:#111;transform-origin:50% 50%;transform:translate(-50%,-50%) rotate(-90deg) scaleX(0.930)">Action 03</div>
<div class="t" style="left:142.33px;top:598.66px;font-size:7.2px;color:#404040;transform-origin:50% 50%;transform:translate(-50%,-50%) scaleX(0.930)">12</div>
<div class="t" style="left:142.33px;top:661.20px;font-size:9.0px;color:#111;transform-origin:50% 50%;transform:translate(-50%,-50%) rotate(-90deg) scaleX(0.930)">Action 04</div>
<div class="t" style="left:179.51px;top:615.66px;font-size:7.2px;color:#404040;transform-origin:50% 50%;transform:translate(-50%,-50%) scaleX(0.930)">5</div>
<div class="t" style="left:179.51px;top:661.20px;font-size:9.0px;color:#111;transform-origin:50% 50%;transform:translate(-50%,-50%) rotate(-90deg) scaleX(0.930)">Action 05</div>
<div class="t" style="left:216.69px;top:574.38px;font-size:7.2px;color:#404040;transform-origin:50% 50%;transform:translate(-50%,-50%) scaleX(0.930)">22</div>
<div class="t" style="left:216.69px;top:661.20px;font-size:9.0px;color:#111;transform-origin:50% 50%;transform:translate(-50%,-50%) rotate(-90deg) scaleX(0.930)">Action 06</div>
<div class="t" style="left:253.87px;top:596.24px;font-size:7.2px;color:#404040;transform-origin:50% 50%;transform:translate(-50%,-50%) scaleX(0.930)">13</div>
<div class="t" style="left:253.87px;top:661.20px;font-size:9.0px;color:#111;transform-origin:50% 50%;transform:translate(-50%,-50%) rotate(-90deg) scaleX(0.930)">Action 07</div>
<div class="t" style="left:291.05px;top:564.67px;font-size:7.2px;color:#404040;transform-origin:50% 50%;transform:translate(-50%,-50%) scaleX(0.930)">26</div>
<div class="t" style="left:291.05px;top:661.20px;font-size:9.0px;color:#111;transform-origin:50% 50%;transform:translate(-50%,-50%) rotate(-90deg) scaleX(0.930)">Action 08</div>
<div class="t" style="left:328.23px;top:598.66px;font-size:7.2px;color:#404040;transform-origin:50% 50%;transform:translate(-50%,-50%) scaleX(0.930)">12</div>
<div class="t" style="left:328.23px;top:661.20px;font-size:9.0px;color:#111;transform-origin:50% 50%;transform:translate(-50%,-50%) rotate(-90deg) scaleX(0.930)">Action 09</div>
<div class="t" style="left:365.41px;top:588.95px;font-size:7.2px;color:#404040;transform-origin:50% 50%;transform:translate(-50%,-50%) scaleX(0.930)">16</div>
<div class="t" style="left:365.41px;top:661.20px;font-size:9.0px;color:#111;transform-origin:50% 50%;transform:translate(-50%,-50%) rotate(-90deg) scaleX(0.930)">Action 10</div>
<div class="t" style="left:199.20px;top:693.40px;font-size:8.7px;color:#111;transform-origin:50% 50%;transform:translate(-50%,-50%) scaleX(0.956)">PROJECT 01 - Implementation of SSCM</div>
<div class="t" style="left:402.59px;top:506.40px;font-size:7.2px;color:#404040;transform-origin:50% 50%;transform:translate(-50%,-50%) scaleX(0.930)">50</div>
<div class="t" style="left:402.59px;top:661.20px;font-size:9.0px;color:#111;transform-origin:50% 50%;transform:translate(-50%,-50%) rotate(-90deg) scaleX(0.930)">Action 01</div>
<div class="t" style="left:439.77px;top:535.54px;font-size:7.2px;color:#404040;transform-origin:50% 50%;transform:translate(-50%,-50%) scaleX(0.930)">38</div>
<div class="t" style="left:439.77px;top:661.20px;font-size:9.0px;color:#111;transform-origin:50% 50%;transform:translate(-50%,-50%) rotate(-90deg) scaleX(0.930)">Action 02</div>
<div class="t" style="left:476.95px;top:564.67px;font-size:7.2px;color:#404040;transform-origin:50% 50%;transform:translate(-50%,-50%) scaleX(0.930)">26</div>
<div class="t" style="left:476.95px;top:661.20px;font-size:9.0px;color:#111;transform-origin:50% 50%;transform:translate(-50%,-50%) rotate(-90deg) scaleX(0.930)">Action 03</div>
<div class="t" style="left:514.13px;top:598.66px;font-size:7.2px;color:#404040;transform-origin:50% 50%;transform:translate(-50%,-50%) scaleX(0.930)">12</div>
<div class="t" style="left:514.13px;top:661.20px;font-size:9.0px;color:#111;transform-origin:50% 50%;transform:translate(-50%,-50%) rotate(-90deg) scaleX(0.930)">Action 04</div>
<div class="t" style="left:551.31px;top:615.66px;font-size:7.2px;color:#404040;transform-origin:50% 50%;transform:translate(-50%,-50%) scaleX(0.930)">5</div>
<div class="t" style="left:551.31px;top:661.20px;font-size:9.0px;color:#111;transform-origin:50% 50%;transform:translate(-50%,-50%) rotate(-90deg) scaleX(0.930)">Action 05</div>
<div class="t" style="left:588.49px;top:574.38px;font-size:7.2px;color:#404040;transform-origin:50% 50%;transform:translate(-50%,-50%) scaleX(0.930)">22</div>
<div class="t" style="left:588.49px;top:661.20px;font-size:9.0px;color:#111;transform-origin:50% 50%;transform:translate(-50%,-50%) rotate(-90deg) scaleX(0.930)">Action 06</div>
<div class="t" style="left:625.67px;top:596.24px;font-size:7.2px;color:#404040;transform-origin:50% 50%;transform:translate(-50%,-50%) scaleX(0.930)">13</div>
<div class="t" style="left:625.67px;top:661.20px;font-size:9.0px;color:#111;transform-origin:50% 50%;transform:translate(-50%,-50%) rotate(-90deg) scaleX(0.930)">Action 07</div>
<div class="t" style="left:662.85px;top:564.67px;font-size:7.2px;color:#404040;transform-origin:50% 50%;transform:translate(-50%,-50%) scaleX(0.930)">26</div>
<div class="t" style="left:662.85px;top:661.20px;font-size:9.0px;color:#111;transform-origin:50% 50%;transform:translate(-50%,-50%) rotate(-90deg) scaleX(0.930)">Action 08</div>
<div class="t" style="left:700.03px;top:598.66px;font-size:7.2px;color:#404040;transform-origin:50% 50%;transform:translate(-50%,-50%) scaleX(0.930)">12</div>
<div class="t" style="left:700.03px;top:661.20px;font-size:9.0px;color:#111;transform-origin:50% 50%;transform:translate(-50%,-50%) rotate(-90deg) scaleX(0.930)">Action 09</div>
<div class="t" style="left:737.21px;top:588.95px;font-size:7.2px;color:#404040;transform-origin:50% 50%;transform:translate(-50%,-50%) scaleX(0.930)">16</div>
<div class="t" style="left:737.21px;top:661.20px;font-size:9.0px;color:#111;transform-origin:50% 50%;transform:translate(-50%,-50%) rotate(-90deg) scaleX(0.930)">Action 10</div>
<div class="t" style="left:571.00px;top:693.40px;font-size:8.7px;color:#111;transform-origin:50% 50%;transform:translate(-50%,-50%) scaleX(0.948)">PROJECT 02 - Installation of Blade Server</div>
<div class="t" style="left:774.39px;top:506.40px;font-size:7.2px;color:#404040;transform-origin:50% 50%;transform:translate(-50%,-50%) scaleX(0.930)">50</div>
<div class="t" style="left:774.39px;top:661.20px;font-size:9.0px;color:#111;transform-origin:50% 50%;transform:translate(-50%,-50%) rotate(-90deg) scaleX(0.930)">Action 01</div>
<div class="t" style="left:811.57px;top:535.54px;font-size:7.2px;color:#404040;transform-origin:50% 50%;transform:translate(-50%,-50%) scaleX(0.930)">38</div>
<div class="t" style="left:811.57px;top:661.20px;font-size:9.0px;color:#111;transform-origin:50% 50%;transform:translate(-50%,-50%) rotate(-90deg) scaleX(0.930)">Action 02</div>
<div class="t" style="left:848.75px;top:564.67px;font-size:7.2px;color:#404040;transform-origin:50% 50%;transform:translate(-50%,-50%) scaleX(0.930)">26</div>
<div class="t" style="left:848.75px;top:661.20px;font-size:9.0px;color:#111;transform-origin:50% 50%;transform:translate(-50%,-50%) rotate(-90deg) scaleX(0.930)">Action 03</div>
<div class="t" style="left:885.93px;top:598.66px;font-size:7.2px;color:#404040;transform-origin:50% 50%;transform:translate(-50%,-50%) scaleX(0.930)">12</div>
<div class="t" style="left:885.93px;top:661.20px;font-size:9.0px;color:#111;transform-origin:50% 50%;transform:translate(-50%,-50%) rotate(-90deg) scaleX(0.930)">Action 04</div>
<div class="t" style="left:923.11px;top:615.66px;font-size:7.2px;color:#404040;transform-origin:50% 50%;transform:translate(-50%,-50%) scaleX(0.930)">5</div>
<div class="t" style="left:923.11px;top:661.20px;font-size:9.0px;color:#111;transform-origin:50% 50%;transform:translate(-50%,-50%) rotate(-90deg) scaleX(0.930)">Action 05</div>
<div class="t" style="left:960.29px;top:574.38px;font-size:7.2px;color:#404040;transform-origin:50% 50%;transform:translate(-50%,-50%) scaleX(0.930)">22</div>
<div class="t" style="left:960.29px;top:661.20px;font-size:9.0px;color:#111;transform-origin:50% 50%;transform:translate(-50%,-50%) rotate(-90deg) scaleX(0.930)">Action 06</div>
<div class="t" style="left:997.47px;top:596.24px;font-size:7.2px;color:#404040;transform-origin:50% 50%;transform:translate(-50%,-50%) scaleX(0.930)">13</div>
<div class="t" style="left:997.47px;top:661.20px;font-size:9.0px;color:#111;transform-origin:50% 50%;transform:translate(-50%,-50%) rotate(-90deg) scaleX(0.930)">Action 07</div>
<div class="t" style="left:1034.65px;top:564.67px;font-size:7.2px;color:#404040;transform-origin:50% 50%;transform:translate(-50%,-50%) scaleX(0.930)">26</div>
<div class="t" style="left:1034.65px;top:661.20px;font-size:9.0px;color:#111;transform-origin:50% 50%;transform:translate(-50%,-50%) rotate(-90deg) scaleX(0.930)">Action 08</div>
<div class="t" style="left:1071.83px;top:598.66px;font-size:7.2px;color:#404040;transform-origin:50% 50%;transform:translate(-50%,-50%) scaleX(0.930)">12</div>
<div class="t" style="left:1071.83px;top:661.20px;font-size:9.0px;color:#111;transform-origin:50% 50%;transform:translate(-50%,-50%) rotate(-90deg) scaleX(0.930)">Action 09</div>
<div class="t" style="left:1109.01px;top:588.95px;font-size:7.2px;color:#404040;transform-origin:50% 50%;transform:translate(-50%,-50%) scaleX(0.930)">16</div>
<div class="t" style="left:1109.01px;top:661.20px;font-size:9.0px;color:#111;transform-origin:50% 50%;transform:translate(-50%,-50%) rotate(-90deg) scaleX(0.930)">Action 10</div>
<div class="t" style="left:942.80px;top:693.40px;font-size:8.7px;color:#111;transform-origin:50% 50%;transform:translate(-50%,-50%) scaleX(0.904)">PROJECT 03 - CLOUD ERP</div>
<div class="t" style="left:103.00px;top:470.60px;font-size:9.3px;color:#111;transform-origin:50% 50%;transform:translate(-50%,-50%) scaleX(0.981)">WORK HOURS PROJECT VS TASKS</div>
<div class="t" style="left:1055.50px;top:468.50px;font-size:6.8px;color:#111;transform-origin:50% 50%;transform:translate(-50%,-50%) scaleX(0.950)">Total</div>
<div class="t" style="left:79.30px;top:63.90px;font-size:9.4px;color:#22364F;transform-origin:50% 50%;transform:translate(-50%,-50%) scaleX(1.027)">Project Management</div>
<div class="t" style="left:80.00px;top:77.70px;font-size:9.4px;color:#111;transform-origin:50% 50%;transform:translate(-50%,-50%) scaleX(0.990)">Dashboard</div>
<div class="t" style="left:1060.40px;top:69.90px;font-size:9.2px;color:#fff;transform-origin:50% 50%;transform:translate(-50%,-50%) scaleX(0.891)">Refresh</div>
<div class="t" style="left:984.30px;top:117.90px;font-size:8.0px;color:#D32020;transform-origin:0 50%;transform:translateY(-50%) scaleX(0.966)">Project</div>
<div class="t u" style="left:991.60px;top:136.80px;font-size:7.4px;color:#111;transform-origin:0 50%;transform:translateY(-50%) scaleX(1.043)">PROJECT 01 - Implementation of...</div>
<div class="t u" style="left:991.60px;top:154.00px;font-size:7.4px;color:#111;transform-origin:0 50%;transform:translateY(-50%) scaleX(1.016)">PROJECT 02 - Installation of Blad...</div>
<div class="t u" style="left:991.60px;top:171.00px;font-size:7.4px;color:#111;transform-origin:0 50%;transform:translateY(-50%) scaleX(0.960)">PROJECT 03 - CLOUD ERP</div>
<div class="t script" style="left:568.00px;top:758.00px;font-size:34px;color:#111;transform-origin:50% 50%;transform:translate(-50%,-50%) scaleX(0.945);font-weight:400">Professional Excel Dashboard</div>

</body></html>
